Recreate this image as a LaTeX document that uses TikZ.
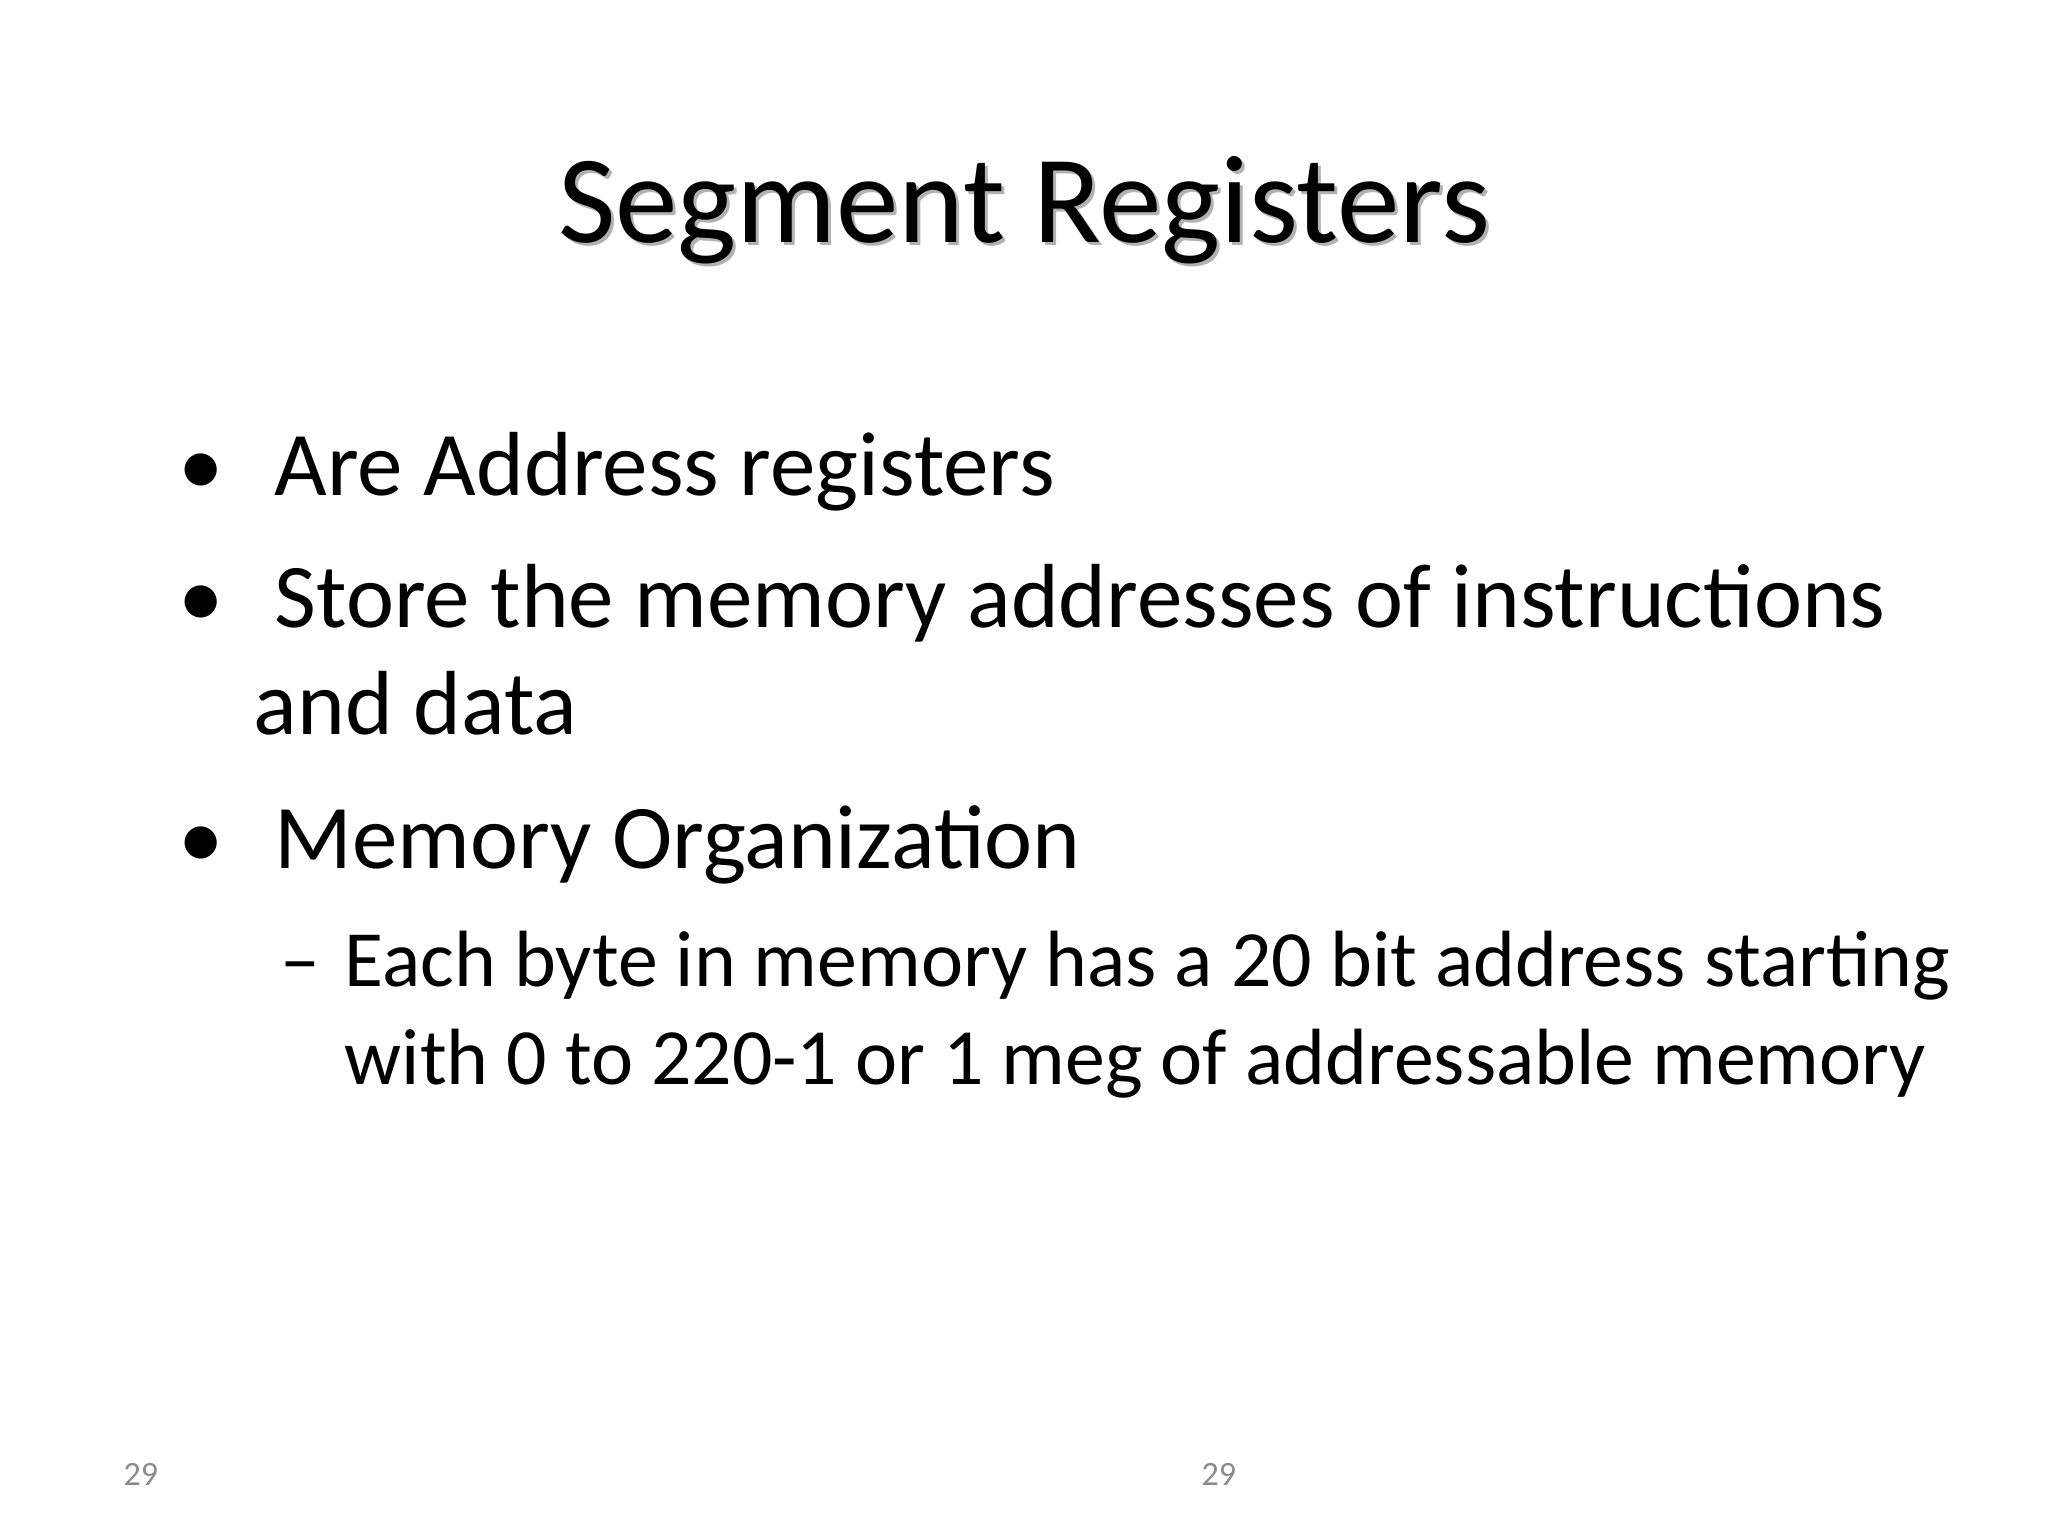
\documentclass[tikz,border=0pt]{standalone}
\usepackage{fontspec}
\setmainfont{Carlito}
\definecolor{shadowgrey}{gray}{0.7}
\definecolor{numgrey}{gray}{0.55}
\tikzset{
  line/.style={anchor=base west, inner sep=0pt, font=\fontsize{25.9}{31}\selectfont},
  subline/.style={anchor=base west, inner sep=0pt, font=\fontsize{22.7}{27}\selectfont},
  pagenum/.style={anchor=base west, inner sep=0pt, text=numgrey, font=\fontsize{9.7}{12}\selectfont}
}
\begin{document}
\begin{tikzpicture}
  \useasboundingbox (0,0) rectangle (20.48,15.36);
  % title with shadow
  \node[anchor=base, inner sep=0pt, text=shadowgrey, font=\fontsize{35.6}{42}\selectfont] (titleshadow) at (10.27,12.90) {Segment Registers};
  \node[anchor=base, inner sep=0pt, font=\fontsize{35.6}{42}\selectfont] (title) at (10.24,12.93) {Segment Registers};
  % bullets
  \node[line] (dot1) at (1.78,10.40) {•};
  \node[line] (b1) at (2.74,10.40) {Are Address registers};
  \node[line] (dot2) at (1.78,9.08) {•};
  \node[line] (b2) at (2.74,9.08) {Store the memory addresses of instructions};
  \node[line] (b2b) at (2.53,8.01) {and data};
  \node[line] (dot3) at (1.78,6.67) {•};
  \node[line] (b3) at (2.74,6.67) {Memory Organization};
  \node[subline] (dash) at (2.80,5.49) {–};
  \node[subline] (s1) at (3.44,5.49) {Each byte in memory has a 20 bit address starting};
  \node[subline] (s1b) at (3.44,4.51) {with 0 to 220-1 or 1 meg of addressable memory};
  % page numbers
  \node[pagenum] (num1) at (1.23,0.50) {29};
  \node[pagenum] (num2) at (12.01,0.50) {29};
\end{tikzpicture}
\end{document}
